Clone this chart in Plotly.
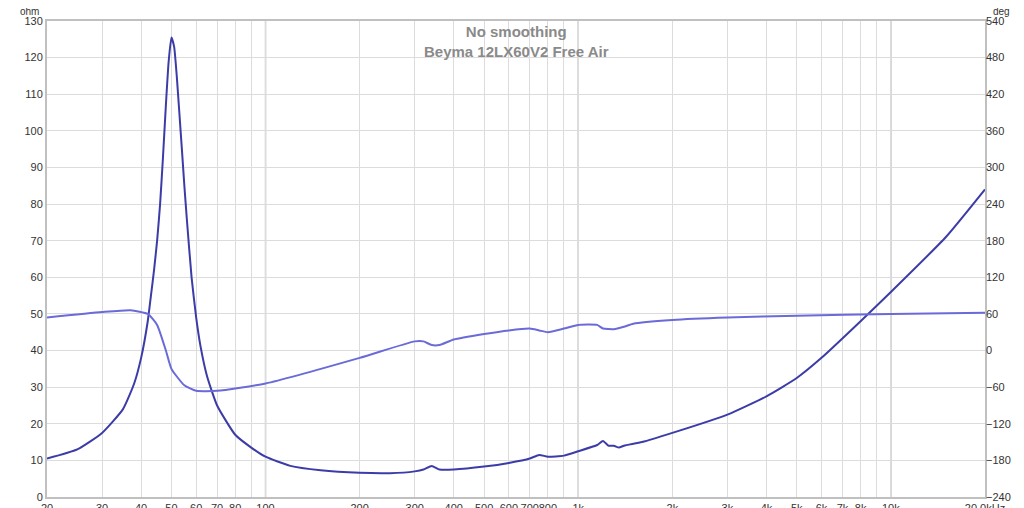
import plotly.graph_objects as go

imp_f = [20,25,30,35,38,40,42,43,44,45,46,47,48,49,50,51,52,53,54,55,56,58,60,62,65,70,80,90,100,120,150,200,250,300,320,340,360,400,500,600,700,750,800,900,1000,1150,1200,1250,1300,1350,1400,1600,2000,3000,4000,5000,6000,8000,10000,15000,20000]
imp_z = [10.5,13,17.5,24,31,38,48,55,62,70,80,93,107,119,125.5,123,115,105,95,85,76,60,49,41,33,25,17,13.5,11,8.5,7.3,6.6,6.5,7,7.5,8.5,7.5,7.5,8.3,9.3,10.5,11.5,11,11.3,12.5,14.2,15.3,14,14,13.5,14,15,17.5,22.5,27.5,32.5,38,48,56,71,84]

ph_f = [20,30,37,42,45,48,50,55,60,70,100,200,300,320,340,360,400,500,600,700,750,800,900,1000,1150,1200,1300,1400,1500,2000,3000,5000,10000,20000]
ph_deg = [54,63,66,60,42,0,-30,-57,-66,-66,-54,-12,15,15,9,9,18,27,33,36,33,30,36,42,42,36,35,39,44,50,54,57,60,62]

xt = [20,30,40,50,60,70,80,90,100,200,300,400,500,600,700,800,900,1000,2000,3000,4000,5000,6000,7000,8000,9000,10000,20000]
xl = ["20","30","40","50","60","70","80","","100","200","300","400","500","600","700","800","","1k","2k","3k","4k","5k","6k","7k","8k","","10k","20,0kHz"]

fig = go.Figure()
fig.add_trace(go.Scatter(x=ph_f, y=ph_deg, yaxis="y2", mode="lines", line=dict(color="#6a6ad8", width=2, shape="spline", smoothing=0.5), showlegend=False))
fig.add_trace(go.Scatter(x=imp_f, y=imp_z, mode="lines", line=dict(color="#3c3ca8", width=2, shape="spline", smoothing=0.5), showlegend=False))

for v in [100, 1000, 10000]:
    fig.add_vline(x=v, line=dict(color="#c0c0c0", width=1.5), layer="below")

fig.update_layout(
    width=1024, height=508, margin=dict(l=39, r=47, t=13, b=19, autoexpand=False),
    paper_bgcolor="white", plot_bgcolor="white",
    font=dict(family="Liberation Sans, Arial", size=11, color="#333"),
    xaxis=dict(type="log", range=[1.30103, 4.30103], tickvals=xt, ticktext=xl, tickangle=0, automargin=False, showgrid=True, gridcolor="#dcdcdc",
               showline=True, linecolor="#c0c0c0", linewidth=2, mirror=True, ticks="", zeroline=False),
    yaxis=dict(range=[0,130], dtick=10, automargin=False, showgrid=True, gridcolor="#dcdcdc", showline=True, linecolor="#c0c0c0", linewidth=2, mirror=True, ticks="", zeroline=False),
    yaxis2=dict(range=[-240,540], dtick=60, automargin=False, overlaying="y", side="right", showgrid=False, ticks="", zeroline=False),
    annotations=[
        dict(text="<b>No smoothing<br>Beyma 12LX60V2 Free Air</b>", x=0.5, y=1.0, xref="paper", yref="paper", yanchor="top",
             showarrow=False, font=dict(size=15, color="#8a8a8a")),
        dict(text="ohm", x=0, y=1, xref="paper", yref="paper", xanchor="right", yanchor="bottom", xshift=-6, yshift=2, showarrow=False, font=dict(size=10)),
        dict(text="deg", x=1, y=1, xref="paper", yref="paper", xanchor="left", yanchor="bottom", xshift=6, yshift=2, showarrow=False, font=dict(size=10)),
    ],
)
fig.write_html("out.html")
